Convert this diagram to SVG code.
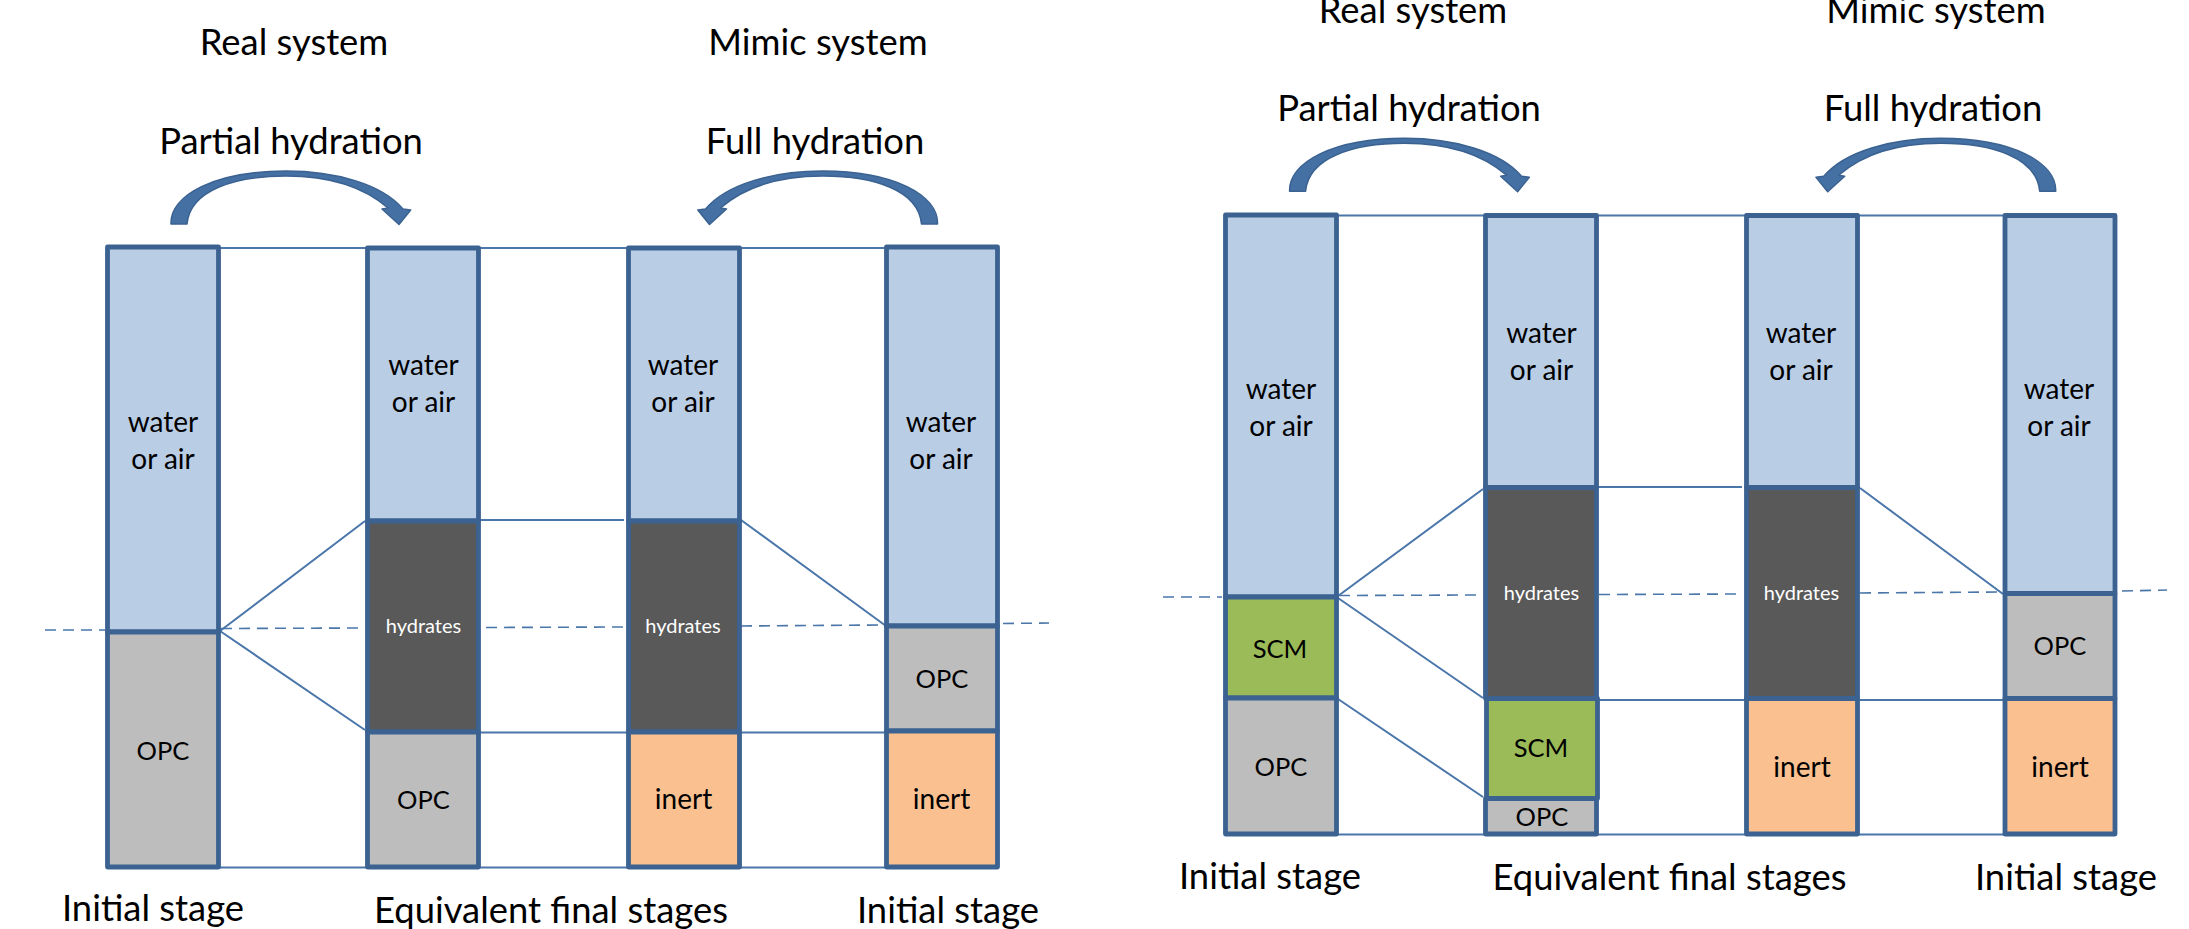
<svg xmlns="http://www.w3.org/2000/svg" width="2189" height="929" viewBox="0 0 2189 929">
<style>
text{font-family:Lato,"Liberation Sans",sans-serif;text-anchor:middle;fill:#000}
.h{font-size:36.4px}
.m{font-size:25.500px}
.l{font-size:28px}
.w{font-size:20px;fill:#fff}
.air,.hyd,.opc,.ine,.scm{stroke:#3b6291;stroke-width:4.800;stroke-linejoin:round}
.air{fill:#b9cde5}.hyd{fill:#595959}.opc{fill:#bdbdbd}.ine{fill:#fac090}.scm{fill:#9bbb59}
.t{stroke:#4a76aa;stroke-width:2;fill:none}
.d{stroke:#4a76aa;stroke-width:1.6;stroke-dasharray:11 7;fill:none}
.arrow{fill:#4470a3;stroke:#3b6291;stroke-width:1.5;stroke-linejoin:round}
</style>
<defs>
<path id="arc" d="M171,224 C170,195 215,171 286,171 C335,171 382,184 403,209 L410.7,210 L399,224.5 L382,209 L388,208 C365,188 330,176 286,176 C235,176 190,190 187,224 Z"/>
</defs>
<rect width="2189" height="929" fill="#fff"/>
<g id="connectors">
<path class="t" d="M218,248H368M478,248H629M739,248H887"/>
<path class="t" d="M478,520H624M478,732.500H887"/>
<path class="t" d="M218,867.500H368M478,867.500H629M739,867.500H887"/>
<path class="t" d="M220,631L365,521M220,631L365,730M741,520L886,626"/>
<path class="d" d="M45,630H105M221,628.500L361,628M486,627.500L624,627M741,626L884,625M1003,623.500L1049,623"/>
<path class="t" d="M1336,215.500H1486M1596,215.500H1747M1857,215.500H2005"/>
<path class="t" d="M1596,487H1742M1596,700H2005"/>
<path class="t" d="M1336,834.500H1486M1596,834.500H1747M1857,834.500H2005"/>
<path class="t" d="M1338,596L1483,489M1338,598L1483,698M1338,699L1483,797M1860,488L2003,594"/>
<path class="d" d="M1163,597H1222M1339,595.500L1478,595M1599,594.500L1742,594M1860,593L2002,592M2122,591L2167,590"/>
<use href="#arc" class="arrow"/>
<use href="#arc" class="arrow" transform="translate(1108.500 0) scale(-1 1)"/>
<use href="#arc" class="arrow" transform="translate(1118.600 -32.700)"/>
<use href="#arc" class="arrow" transform="translate(2226.700 -32.700) scale(-1 1)"/>
</g>
<g id="left-titles">
<text class="h" x="294" y="55">Real system</text>
<text class="h" x="291" y="154">Partial hydration</text>
<text class="h" x="818" y="55">Mimic system</text>
<text class="h" x="815" y="154">Full hydration</text>
<text class="h" x="153" y="921">Initial stage</text>
<text class="h" x="551" y="923">Equivalent final stages</text>
<text class="h" x="948" y="923">Initial stage</text>
</g>
<g id="left-a">
<rect class="air" x="107.500" y="247" width="111" height="385"/>
<rect class="opc" x="107.500" y="632" width="111" height="235"/>
<text class="l"><tspan x="163" y="431.500">water</tspan><tspan x="163" y="468.500">or air</tspan></text>
<text class="m" x="163" y="760">OPC</text>
</g>
<g id="left-b">
<rect class="air" x="367.500" y="248" width="111" height="273"/>
<rect class="hyd" x="367.500" y="521" width="111" height="211"/>
<rect class="opc" x="367.500" y="732" width="111" height="135"/>
<text class="l"><tspan x="423.500" y="375">water</tspan><tspan x="423.500" y="412">or air</tspan></text>
<text class="w" x="423.500" y="633">hydrates</text>
<text class="m" x="423.500" y="809">OPC</text>
</g>
<g id="left-c">
<rect class="air" x="628.500" y="248" width="111" height="273"/>
<rect class="hyd" x="628.500" y="521" width="111" height="211"/>
<rect class="ine" x="628.500" y="732" width="111" height="135"/>
<text class="l"><tspan x="683" y="375">water</tspan><tspan x="683" y="412">or air</tspan></text>
<text class="w" x="683" y="633">hydrates</text>
<text class="l" x="683.500" y="809">inert</text>
</g>
<g id="left-d">
<rect class="air" x="886.500" y="247" width="111" height="379"/>
<rect class="opc" x="886.500" y="626" width="111" height="105"/>
<rect class="ine" x="886.500" y="731" width="111" height="136"/>
<text class="l"><tspan x="941" y="431.500">water</tspan><tspan x="941" y="468.500">or air</tspan></text>
<text class="m" x="942" y="688">OPC</text>
<text class="l" x="941.500" y="809">inert</text>
</g>
<g id="right-titles">
<text class="h" x="1413" y="23">Real system</text>
<text class="h" x="1409" y="121">Partial hydration</text>
<text class="h" x="1936" y="23">Mimic system</text>
<text class="h" x="1933" y="121">Full hydration</text>
<text class="h" x="1270" y="889">Initial stage</text>
<text class="h" x="1669.500" y="890">Equivalent final stages</text>
<text class="h" x="2066" y="890">Initial stage</text>
</g>
<g id="right-a">
<rect class="air" x="1225.500" y="215" width="111" height="382"/>
<rect class="scm" x="1225.500" y="597" width="111" height="101"/>
<rect class="opc" x="1225.500" y="698" width="111" height="136"/>
<text class="l"><tspan x="1281" y="398.500">water</tspan><tspan x="1281" y="435.500">or air</tspan></text>
<text class="m" x="1280" y="658">SCM</text>
<text class="m" x="1281" y="776">OPC</text>
</g>
<g id="right-b">
<rect class="air" x="1485.500" y="215.500" width="111" height="272"/>
<rect class="hyd" x="1485.500" y="487.500" width="111" height="211"/>
<rect class="scm" x="1486.500" y="698.500" width="111" height="100"/>
<rect class="opc" x="1485.500" y="798.500" width="111" height="35.500"/>
<text class="l"><tspan x="1541.500" y="342.500">water</tspan><tspan x="1541.500" y="379.500">or air</tspan></text>
<text class="w" x="1541.500" y="600">hydrates</text>
<text class="m" x="1541" y="757">SCM</text>
<text class="m" x="1542" y="826">OPC</text>
</g>
<g id="right-c">
<rect class="air" x="1746.500" y="215.500" width="111" height="272"/>
<rect class="hyd" x="1746.500" y="487.500" width="111" height="211"/>
<rect class="ine" x="1746.500" y="698.500" width="111" height="135.500"/>
<text class="l"><tspan x="1801" y="342.500">water</tspan><tspan x="1801" y="379.500">or air</tspan></text>
<text class="w" x="1801.500" y="600">hydrates</text>
<text class="l" x="1802" y="777">inert</text>
</g>
<g id="right-d">
<rect class="air" x="2005" y="215.500" width="110" height="378"/>
<rect class="opc" x="2005" y="593.500" width="110" height="105"/>
<rect class="ine" x="2005" y="698.500" width="110" height="135.500"/>
<text class="l"><tspan x="2059" y="398.500">water</tspan><tspan x="2059" y="435.500">or air</tspan></text>
<text class="m" x="2060" y="655">OPC</text>
<text class="l" x="2060" y="777">inert</text>
</g>
</svg>
